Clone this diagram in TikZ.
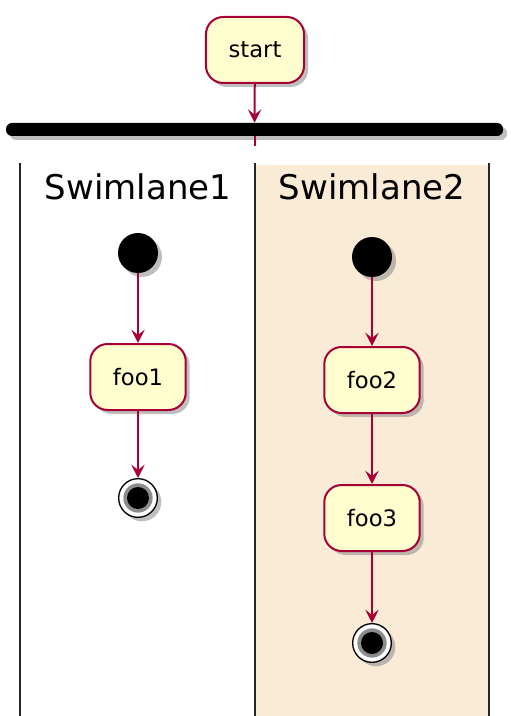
\documentclass[tikz,border=0pt]{standalone}
\usepackage{fontspec}
\setmainfont{DejaVu Sans}
\usetikzlibrary{shapes.misc,shadows,arrows.meta}
\definecolor{umlred}{HTML}{A80036}
\definecolor{umlfill}{HTML}{FEFECE}
\definecolor{lanefill}{HTML}{FAEBD7}

\begin{document}
\begin{tikzpicture}[x=0.75pt,y=0.75pt,yscale=-1,xscale=1,
	umlshadow/.style={drop shadow={shadow xshift=3pt, shadow yshift=-3pt, fill=black!50, opacity=0.5}},
	activity/.style={draw=umlred, line width=1.5pt, fill=umlfill, rounded corners=13pt, minimum height=49.5pt, inner xsep=17pt, font=\fontsize{17}{20}\selectfont, umlshadow},
	startdot/.style={circle, fill=black, minimum size=30pt, inner sep=0pt, umlshadow},
	enddot/.style={circle, draw=black, line width=1pt, fill=white, minimum size=29pt, inner sep=0pt, umlshadow,
		path picture={\fill[black!45] (path picture bounding box.center) circle (11pt);
			\fill[black] (path picture bounding box.center) circle (8.25pt);}},
	forkbar/.style={rectangle, fill=black, rounded corners=4.5pt, minimum width=372.75pt, minimum height=9.75pt, inner sep=0pt, umlshadow},
	flow/.style={umlred, line width=1.5pt, -{Stealth[length=10pt,width=10pt,inset=4pt]}},
	lane/.style={line width=2pt, draw=black!85},
	lanetitle/.style={font=\fontsize{25.5}{30}\selectfont}]
	\useasboundingbox (0,0) rectangle (510,716);
	
	%Shape: Lane background
	\fill [lanefill] (255,165) rectangle (489,716);
	%Straight Lines: lane borders
	\draw [lane] (20,163) -- (20,716);
	\draw [lane] (255,163) -- (255,716);
	\draw [lane] (489,163) -- (489,716);
	
	% Text Node
	\node [lanetitle] (title1) at (138,187) {Swimlane1};
	% Text Node
	\node [lanetitle] (title2) at (372,187) {Swimlane2};
	
	%Shape: start and fork
	\node [activity] (start) at (255,50) {start};
	\node [forkbar] (fork) at (254.5,129.5) {};
	\coordinate (forkout) at (254.5,146);
	\draw [flow] (start) -- (fork.north);
	\draw [umlred, line width=1.5pt] (fork.south) -- (forkout);
	
	%Shape: Swimlane1
	\node [startdot] (start1) at (138,253) {};
	\node [activity] (foo1) at (138,377) {foo1};
	\node [enddot] (end1) at (138,498) {};
	\draw [flow] (start1) -- (foo1);
	\draw [flow] (foo1) -- (end1);
	
	%Shape: Swimlane2
	\node [startdot] (start2) at (372,257) {};
	\node [activity] (foo2) at (372,380) {foo2};
	\node [activity] (foo3) at (372,518) {foo3};
	\node [enddot] (end2) at (372,643) {};
	\draw [flow] (start2) -- (foo2);
	\draw [flow] (foo2) -- (foo3);
	\draw [flow] (foo3) -- (end2);
	
\end{tikzpicture}
\end{document}
